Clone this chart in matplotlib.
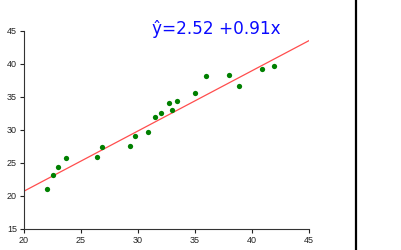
import numpy as np
from matplotlib import pyplot as plt
from matplotlib.lines import Line2D

x_vals = [22.0, 22.5, 23.0, 23.7, 26.4, 26.8, 29.3, 29.7, 30.9, 31.5, 32.0,
          32.7, 33.0, 33.4, 35.0, 36.0, 38.0, 38.9, 40.9, 41.9]
y_vals = [21.0, 23.2, 24.3, 25.8, 25.9, 27.4, 27.5, 29.0, 29.6, 32.0, 32.6,
          34.0, 33.0, 34.3, 35.6, 38.1, 38.2, 36.6, 39.2, 39.6]
intercept = 2.52
slope = 0.91
x_ticks = [20, 25, 30, 35, 40, 45]
y_ticks = [15, 20, 25, 30, 35, 40, 45]

fig = plt.figure(figsize=(4.01, 2.5), dpi=100)
ax = fig.add_axes([24 / 401, 21 / 250, 285 / 401, 198.5 / 250])

line_x = np.array([20, 45])
ax.plot(line_x, intercept + slope * line_x, color='#ff4d4d', lw=0.9, zorder=2)
ax.plot(x_vals, y_vals, 'o', color='#008000', markersize=3.8, mec='none', zorder=3)

ax.set_xlim(20, 45)
ax.set_ylim(15, 45)
ax.set_xticks(x_ticks)
ax.set_yticks(y_ticks)
for s in ('top', 'right'):
    ax.spines[s].set_visible(False)
for s in ('left', 'bottom'):
    ax.spines[s].set_linewidth(0.8)
    ax.spines[s].set_color('#333333')
ax.tick_params(length=3, width=0.8, labelsize=6.5, pad=2, colors='#222222')
for lab in ax.get_xticklabels() + ax.get_yticklabels():
    lab.set_family('Liberation Sans')

fig.text(216 / 401, 1 - 29 / 250, 'ŷ=2.52 +0.91x', color='#0a0aff',
         fontsize=12.2, ha='center', va='center', family='DejaVu Sans')

fig.add_artist(Line2D([356 / 401, 356 / 401], [0, 1], color='black', lw=1.6,
                      transform=fig.transFigure))

fig.savefig('out.png', dpi=100)
